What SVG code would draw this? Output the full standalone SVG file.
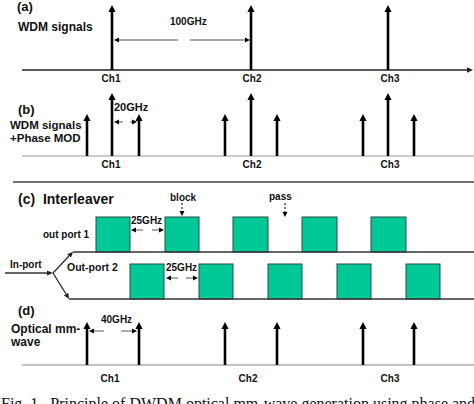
<svg xmlns="http://www.w3.org/2000/svg" width="474" height="404" viewBox="0 0 474 404">
<style>
.t{font-family:"Liberation Sans",Arial,sans-serif;font-weight:bold;fill:#111}
.s10{font-size:10px}
.s12{font-size:12px}
.s13{font-size:13px}
.ch{font-size:10px;text-anchor:middle}
.sig{stroke:#000;stroke-width:2.6;fill:none;marker-end:url(#big)}
.dash{stroke:#888;stroke-width:1.4;fill:none;marker-end:url(#small)}
.vd{stroke:#222;stroke-width:1.2;stroke-dasharray:2 2;fill:none;marker-end:url(#small)}
.box{fill:#00c896;stroke:#2a4a40;stroke-width:1}
.port{stroke:#333;stroke-width:1.4;fill:none}
</style>
<defs>
<marker id="big" viewBox="0 -4 7 8" refX="0" refY="0" markerWidth="7" markerHeight="8" markerUnits="userSpaceOnUse" orient="auto"><path d="M0,-3.6 L7,0 L0,3.6 z" fill="#000"/></marker>
<marker id="small" viewBox="0 -3 5 6" refX="0" refY="0" markerWidth="5" markerHeight="6" markerUnits="userSpaceOnUse" orient="auto"><path d="M0,-2.5 L5,0 L0,2.5 z" fill="#000"/></marker>
<marker id="axis" viewBox="0 -3 6 6" refX="0" refY="0" markerWidth="6" markerHeight="6" markerUnits="userSpaceOnUse" orient="auto"><path d="M0,-2.8 L6,0 L0,2.8 z" fill="#222"/></marker>
<marker id="port" viewBox="0 -3 6 6" refX="0" refY="0" markerWidth="6" markerHeight="6" markerUnits="userSpaceOnUse" orient="auto"><path d="M0,-2.6 L6,0 L0,2.6 z" fill="#222"/></marker>
</defs>

<g id="panel-a">
<text class="t s13" x="17" y="11">(a)</text>
<text class="t s12" x="18" y="31">WDM signals</text>
<text class="t s10" x="170" y="25">100GHz</text>
<text class="t ch" x="111" y="82">Ch1</text>
<text class="t ch" x="252" y="82">Ch2</text>
<text class="t ch" x="390" y="82">Ch3</text>
</g>

<g id="panel-b">
<text class="t s13" x="18" y="114">(b)</text>
<text class="t" style="font-size:11.5px" x="10" y="129">WDM signals</text>
<text class="t" style="font-size:11.5px" x="10" y="142">+Phase MOD</text>
<text class="t" style="font-size:11px" x="114" y="111">20GHz</text>
<text class="t ch" x="111" y="168">Ch1</text>
<text class="t ch" x="252" y="168">Ch2</text>
<text class="t ch" x="390" y="168">Ch3</text>
</g>

<g id="panel-c">
<text class="t" style="font-size:14px" x="18" y="204" xml:space="preserve">(c)  Interleaver</text>
<text class="t s10" x="170" y="201">block</text>
<text class="t s10" x="269" y="200">pass</text>
<text class="t s10" x="43" y="238">out port 1</text>
<text class="t s10" x="10" y="268">In-port</text>
<text class="t" style="font-size:10.5px" x="67" y="271">Out-port 2</text>
<text class="t s10" x="131" y="224">25GHz</text>
<text class="t s10" x="166" y="271">25GHz</text>
<g id="port1-boxes">
<rect class="box" x="96" y="217" width="34" height="35"/>
<rect class="box" x="165" y="217" width="34" height="35"/>
<rect class="box" x="233" y="217" width="35" height="35"/>
<rect class="box" x="302" y="217" width="35" height="35"/>
<rect class="box" x="371" y="217" width="35" height="35"/>
</g>
<g id="port2-boxes">
<rect class="box" x="130" y="264" width="34" height="35"/>
<rect class="box" x="199" y="264" width="34" height="35"/>
<rect class="box" x="268" y="264" width="34" height="35"/>
<rect class="box" x="337" y="264" width="34" height="35"/>
<rect class="box" x="406" y="264" width="34" height="35"/>
</g>
</g>

<g id="panel-d">
<text class="t s13" x="18" y="315">(d)</text>
<text class="t s12" x="11" y="333">Optical mm-</text>
<text class="t s12" x="11" y="346">wave</text>
<text class="t s10" x="101" y="323">40GHz</text>
<text class="t ch" x="110" y="382">Ch1</text>
<text class="t ch" x="248" y="382">Ch2</text>
<text class="t ch" x="390" y="382">Ch3</text>
</g>

<g id="connectors">
<line x1="22" y1="70" x2="467" y2="70" stroke="#222" stroke-width="1.3" marker-end="url(#axis)"/>
<line x1="22" y1="156" x2="474" y2="156" stroke="#999" stroke-width="1.2"/>
<line x1="13" y1="182" x2="474" y2="182" stroke="#444" stroke-width="1.5"/>
<line x1="22" y1="365" x2="474" y2="365" stroke="#888" stroke-width="1.2"/>
<line class="sig" x1="112" y1="70" x2="112" y2="12"/>
<line class="sig" x1="251" y1="70" x2="251" y2="12"/>
<line class="sig" x1="388" y1="70" x2="388" y2="12"/>
<line class="dash" x1="178" y1="40" x2="119" y2="40"/>
<line class="dash" x1="190" y1="40" x2="245" y2="40"/>
<line class="sig" x1="87" y1="156" x2="87" y2="121"/>
<line class="sig" x1="112" y1="156" x2="112" y2="100"/>
<line class="sig" x1="139" y1="156" x2="139" y2="121"/>
<line class="sig" x1="225" y1="156" x2="225" y2="121"/>
<line class="sig" x1="251" y1="156" x2="251" y2="100"/>
<line class="sig" x1="277" y1="156" x2="277" y2="121"/>
<line class="sig" x1="363" y1="156" x2="363" y2="121"/>
<line class="sig" x1="388" y1="156" x2="388" y2="100"/>
<line class="sig" x1="414" y1="156" x2="414" y2="121"/>
<line class="dash" x1="123" y1="122" x2="119" y2="122"/>
<line class="dash" x1="130" y1="122" x2="132" y2="122"/>
<line class="port" x1="5" y1="273" x2="47" y2="273" marker-end="url(#port)"/>
<line class="port" x1="53" y1="273" x2="69" y2="256" marker-end="url(#port)"/>
<line class="port" x1="53" y1="273" x2="66" y2="294" marker-end="url(#port)"/>
<line class="port" x1="73" y1="252" x2="474" y2="252"/>
<line class="port" x1="69" y1="299" x2="474" y2="299"/>
<line class="vd" x1="182" y1="203" x2="182" y2="211"/>
<line class="vd" x1="285" y1="203" x2="285" y2="212"/>
<line class="dash" x1="143" y1="230" x2="136" y2="230"/>
<line class="dash" x1="152" y1="230" x2="159" y2="230"/>
<line class="dash" x1="178" y1="278" x2="171" y2="278"/>
<line class="dash" x1="186" y1="278" x2="193" y2="278"/>
<line class="sig" x1="87" y1="365" x2="87" y2="329"/>
<line class="sig" x1="139" y1="365" x2="139" y2="329"/>
<line class="sig" x1="225" y1="365" x2="225" y2="329"/>
<line class="sig" x1="277" y1="365" x2="277" y2="329"/>
<line class="sig" x1="363" y1="365" x2="363" y2="329"/>
<line class="sig" x1="414" y1="365" x2="414" y2="329"/>
<line class="dash" x1="104" y1="331" x2="94" y2="331"/>
<line class="dash" x1="121" y1="331" x2="132" y2="331"/>
</g>

<text x="1" y="409" xml:space="preserve" style="font-family:'Liberation Serif','Times New Roman',serif;font-size:16px;fill:#111">Fig. 1.  Principle of DWDM optical mm-wave generation using phase and</text>
</svg>
